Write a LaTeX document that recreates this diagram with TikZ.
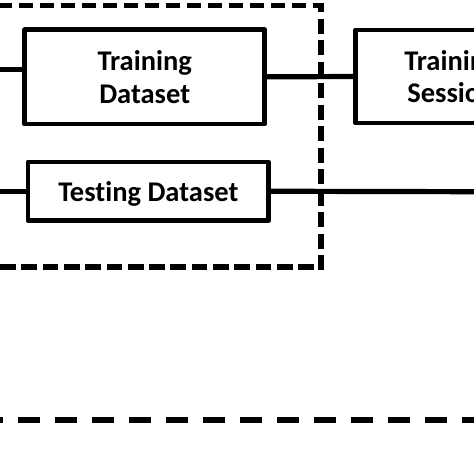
\documentclass[tikz,border=0pt]{standalone}
\usepackage{fontspec}
\setmainfont{Carlito}[Ligatures=NoCommon]
\begin{document}
\begin{tikzpicture}[x=1pt,y=-1pt,
  box/.style={draw, line width=4.6pt, line join=round, inner sep=0pt, align=center,
    font=\fontsize{28.5}{32.7}\selectfont\bfseries},
  conn/.style={line width=5.2pt},
  frame/.style={line width=5.8pt, line cap=butt}]
\useasboundingbox (0,0) rectangle (474,474);
\fill[white] (0,0) rectangle (474,474);
\clip (0,0) rectangle (474,474);

% dashed group frame
\draw[frame, dash pattern=on 13.3pt off 7.7pt, dash phase=1.6pt] (0,5.5) -- (324,5.5);
\draw[frame, dash pattern=on 15pt off 6.5pt, dash phase=5.75pt] (321.3,2.75) -- (321.3,269.5);
\draw[frame, dash pattern=on 15.7pt off 5.6pt] (0,266.7) -- (324,266.7);

% bottom dashed line
\draw[frame, dash pattern=on 21.7pt off 15.3pt, dash phase=18.7pt] (0,420) -- (474,420);

% nodes
\node[box, minimum width=240pt, minimum height=94.3pt] (td) at (144.7,76.85) {Training\\Dataset};
\node[box, minimum width=240.7pt, minimum height=58.5pt, text depth=0pt] (tt) at (148.35,191.25) {Testing Dataset};
\node[box, minimum width=192pt, minimum height=93pt] (ts) at (451.5,76.5) {Training\\Session};

% connectors
\coordinate (in1) at (0,69.2);
\coordinate (in2) at (0,191.8);
\coordinate (out2) at (474,191.7);
\draw[conn] (in1) -- (in1 -| td.west);
\draw[conn] (td.east) -- (ts.west);
\draw[conn] (in2) -- (in2 -| tt.west);
\draw[conn] (tt.east) -- (out2);
\end{tikzpicture}
\end{document}
